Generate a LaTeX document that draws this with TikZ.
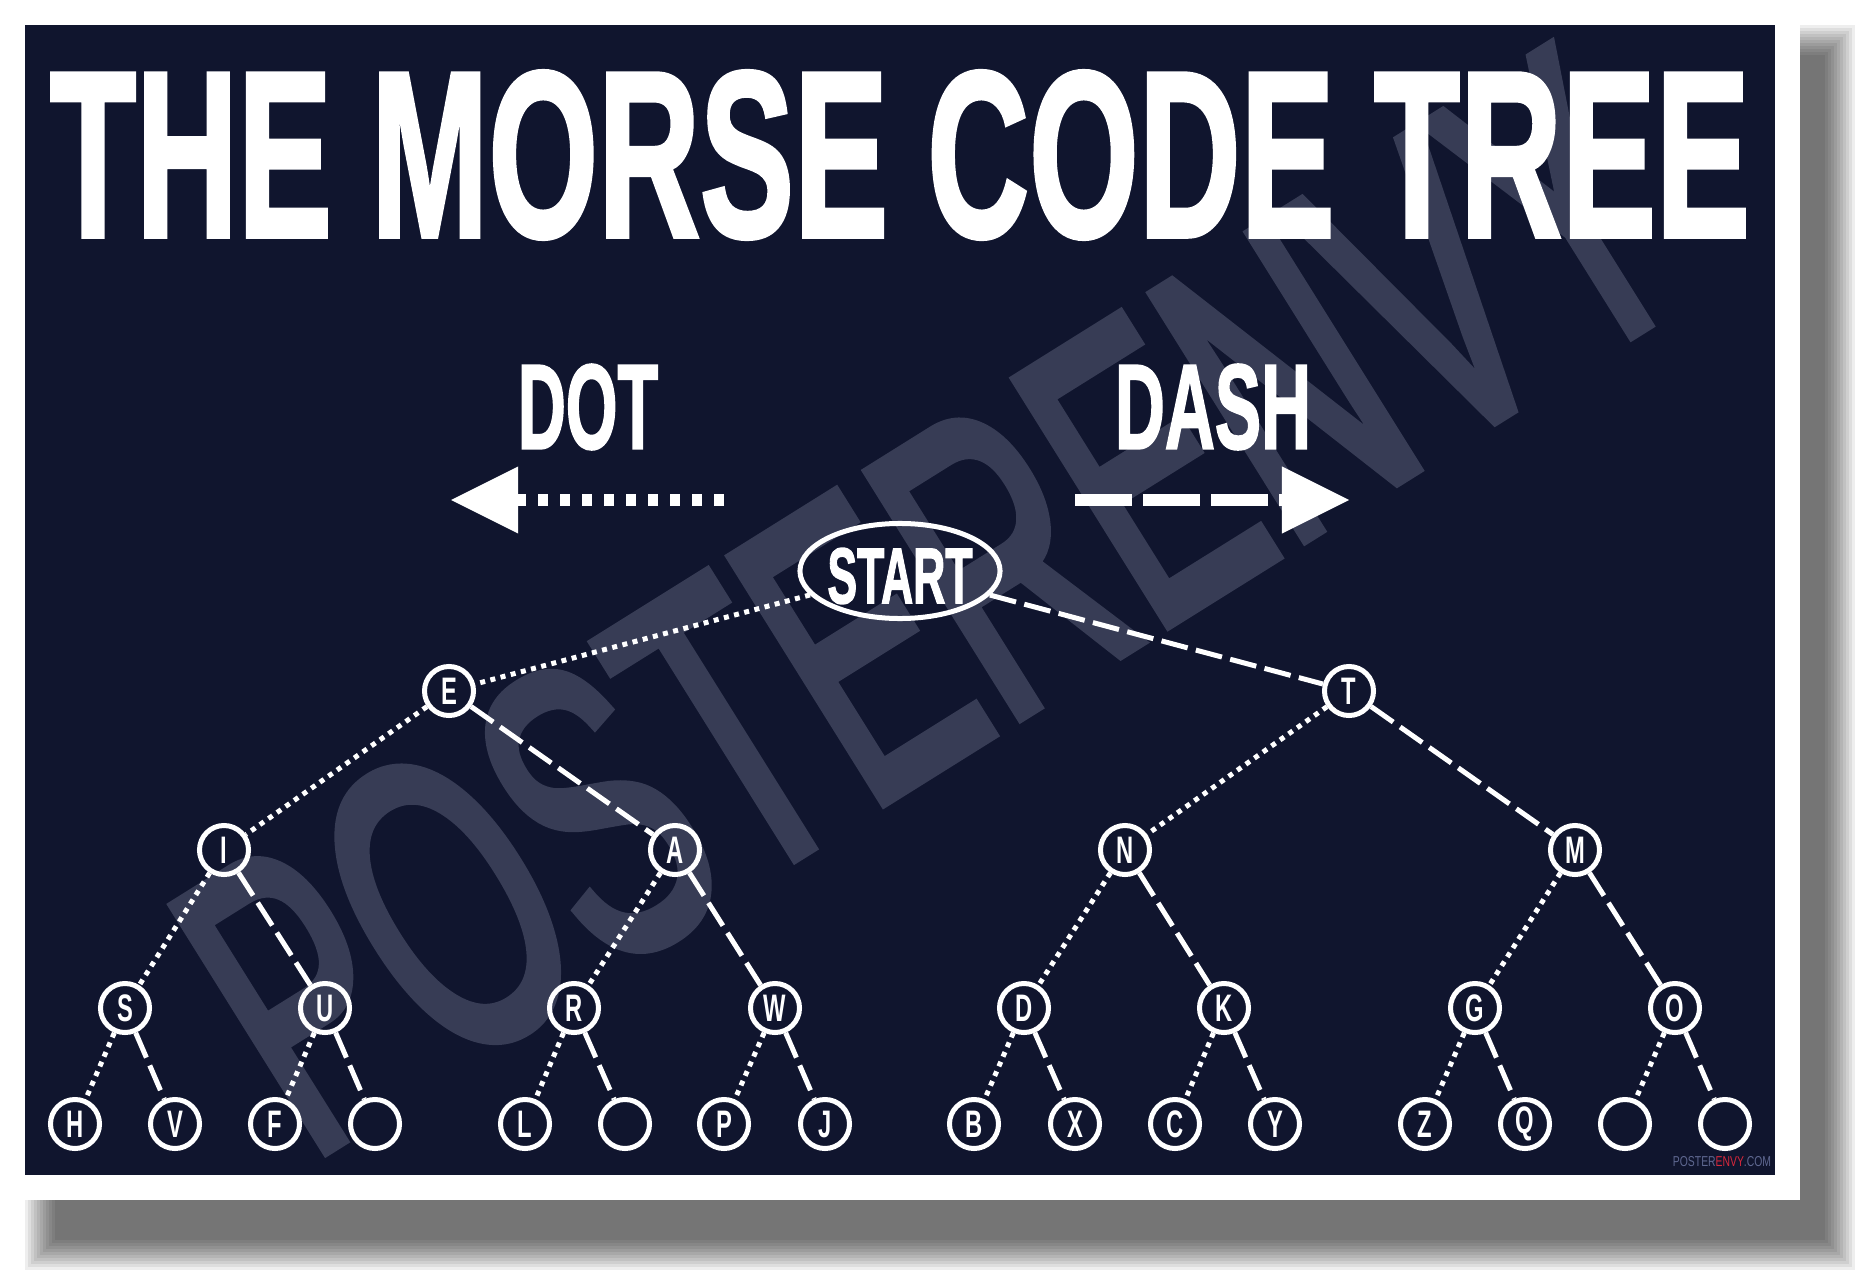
\documentclass[tikz,border=0pt]{standalone}
\usepackage{fontspec}
\usepackage{graphicx}
\usetikzlibrary{shapes.geometric, arrows.meta}

\setmainfont{Liberation Sans}
\newfontfamily\headfont{Liberation Sans Bold}[FakeBold=2]
\newfontfamily\markfont{Liberation Sans}[FakeBold=3]
\newfontfamily\letterfont{Liberation Sans Bold}[FakeStretch=0.62]

\definecolor{navy}{RGB}{16,21,46}
\definecolor{markgray}{RGB}{55,60,85}
\definecolor{sitegray}{RGB}{95,104,145}
\definecolor{sitered}{RGB}{215,40,60}

\begin{document}
\begin{tikzpicture}[x=0.01cm, y=-0.01cm,
    morse/.style={draw=white, circle, line width=0.05cm, minimum size=0.49cm, inner sep=0pt,
        text=white, font=\letterfont\fontsize{10.9pt}{12pt}\selectfont},
    dotlink/.style={white, line width=0.05cm, dash pattern=on 0.05cm off 0.055cm},
    dashlink/.style={white, line width=0.05cm, dash pattern=on 0.27cm off 0.085cm},
    legendtip/.style={-{Triangle[length=0.67cm, width=0.67cm, line width=0pt]}}]

    \useasboundingbox (0,0) rectangle (1872,1285);

    % Paper, blurred shadow and poster
    \fill[white] (0,0) rectangle (1872,1285);
    \foreach \k in {0,...,10} {
        \fill[black, opacity=0.068] ({25+3*\k},{25+3*\k}) rectangle ({1855-3*\k},{1270-3*\k});
    }
    \fill[white] (0,0) rectangle (1800,1200);
    \fill[navy] (25,25) rectangle (1775,1175);

    % Watermark
    \node[rotate=32, text=markgray, inner sep=0pt] (mark) at (932,602)
        {\resizebox{16.5cm}{2.91cm}{\markfont POSTERENVY}};

    % Title
    \node[text=white, inner sep=0pt] (title) at (900,155)
        {\resizebox{16.99cm}{1.65cm}{\headfont THE MORSE CODE TREE}};

    % Legend
    \node[text=white, inner sep=0pt] (dotlabel) at (588,407) {\resizebox{1.40cm}{0.84cm}{\headfont DOT}};
    \node[text=white, inner sep=0pt] (dashlabel) at (1213,407) {\resizebox{1.96cm}{0.84cm}{\headfont DASH}};

    \coordinate (dotfrom) at (724,500);
    \coordinate (dotto) at (451,500);
    \coordinate (dashfrom) at (1075,500);
    \coordinate (dashto) at (1349,500);
    \draw[white, line width=0.12cm, dash pattern=on 0.10cm off 0.12cm, legendtip] (dotfrom) -- (dotto);
    \draw[white, line width=0.12cm, dash pattern=on 0.57cm off 0.11cm, legendtip] (dashfrom) -- (dashto);

    % Root
    \node[ellipse, draw=white, line width=0.05cm, minimum width=2.0cm, minimum height=0.95cm, inner sep=0pt] (start) at (900,571) {};
    \node[text=white, inner sep=0pt] (starttext) at (900,576) {\resizebox{1.45cm}{0.55cm}{\headfont START}};

    % Level 1
    \node[morse] (E) at (449,691) {E};
    \node[morse] (T) at (1349,691) {T};

    % Level 2
    \node[morse] (I) at (224,850) {I};
    \node[morse] (A) at (675,850) {A};
    \node[morse] (N) at (1125,850) {N};
    \node[morse] (M) at (1575,850) {M};

    % Level 3
    \node[morse] (S) at (125,1008) {S};
    \node[morse] (U) at (325,1008) {U};
    \node[morse] (R) at (574,1008) {R};
    \node[morse] (W) at (775,1008) {W};
    \node[morse] (D) at (1024,1008) {D};
    \node[morse] (K) at (1224,1008) {K};
    \node[morse] (G) at (1475,1008) {G};
    \node[morse] (O) at (1675,1008) {O};

    % Level 4
    \node[morse] (H) at (75,1124) {H};
    \node[morse] (V) at (175,1124) {V};
    \node[morse] (F) at (275,1124) {F};
    \node[morse] (b1) at (375,1124) {};
    \node[morse] (L) at (525,1124) {L};
    \node[morse] (b2) at (625,1124) {};
    \node[morse] (P) at (724,1124) {P};
    \node[morse] (J) at (825,1124) {J};
    \node[morse] (B) at (974,1124) {B};
    \node[morse] (X) at (1075,1124) {X};
    \node[morse] (C) at (1175,1124) {C};
    \node[morse] (Y) at (1275,1124) {Y};
    \node[morse] (Z) at (1425,1124) {Z};
    \node[morse] (Q) at (1525,1124) {Q};
    \node[morse] (b3) at (1625,1124) {};
    \node[morse] (b4) at (1725,1124) {};

    % Dot branches go left, dash branches go right
    \foreach \a/\b in {start/E, E/I, A/R, T/N, M/G, I/S, U/F, N/D, O/b3, S/H, R/L, W/P, D/B, K/C, G/Z} {
        \draw[dotlink] (\a) -- (\b);
    }
    \foreach \a/\b in {start/T, E/A, I/U, A/W, T/M, N/K, M/O, S/V, U/b1, R/b2, W/J, D/X, K/Y, G/Q, O/b4} {
        \draw[dashlink] (\a) -- (\b);
    }

    % Site mark
    \node[inner sep=0pt] (site) at (1722,1162)
        {\resizebox{0.98cm}{0.10cm}{\textcolor{sitegray}{POSTER}\textcolor{sitered}{ENVY}\textcolor{sitegray}{.COM}}};
\end{tikzpicture}
\end{document}
